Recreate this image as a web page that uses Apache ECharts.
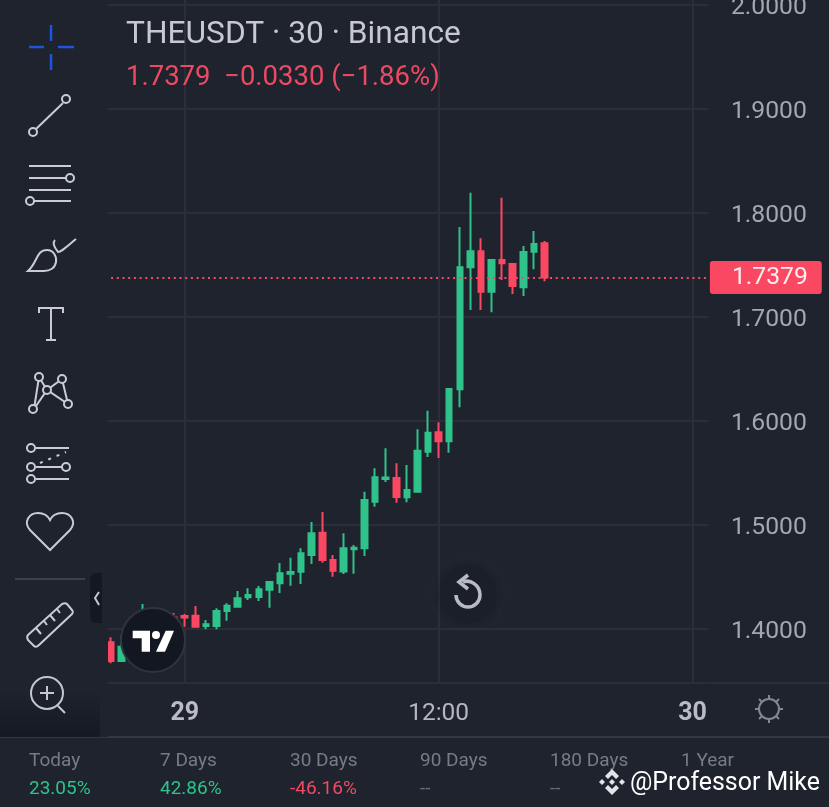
<!DOCTYPE html>
<html>
<head>
	<title>THEUSDT</title>
	<script src="https://cdn.jsdelivr.net/npm/echarts@6/dist/echarts.min.js"></script>
	<style type="text/css">
		html,body{
			margin:0;
			padding:0;
			background:#1e232d;
		}
		#chartContainer{
			width:829px;
			height:807px;
		}
	</style>
</head>
<body>
	<div id="chartContainer"></div>
	<script type="text/javascript">
		// 30 minute bars, one slot each
		var times=['20:30','21:00','21:30','22:00','22:30','23:00','23:30','29','00:30','01:00','01:30','02:00','02:30','03:00','03:30','04:00','04:30','05:00','05:30','06:00','06:30','07:00','07:30','08:00','08:30','09:00','09:30','10:00','10:30','11:00','11:30','12:00','12:30','13:00','13:30','14:00','14:30','15:00','15:30','16:00','16:30','17:00','17:30','18:00','18:30','19:00','19:30','20:00','20:30','21:00','21:30','22:00','22:30','23:00','23:30','30','00:30'];
		var opens =[1.3872,1.3692,1.3830,1.3950,1.4060,1.3980,1.4110,1.4125,1.4128,1.4029,1.4029,1.4173,1.4214,1.4305,1.4308,1.4378,1.4439,1.4532,1.4551,1.4712,1.4926,1.4663,1.4553,1.4766,1.4776,1.5224,1.5442,1.5452,1.5266,1.5320,1.5705,1.5891,1.5805,1.6305,1.7478,1.7632,1.7243,1.7548,1.7510,1.7286,1.7628,1.7709];
		var closes=[1.3692,1.3830,1.3950,1.4060,1.3980,1.4080,1.4020,1.4110,1.4022,1.4045,1.4173,1.4224,1.4295,1.4327,1.4382,1.4452,1.4536,1.4548,1.4728,1.4920,1.4663,1.4561,1.4776,1.4782,1.5240,1.5459,1.5457,1.5269,1.5337,1.5714,1.5888,1.5805,1.6308,1.7478,1.7632,1.7243,1.7548,1.7516,1.7298,1.7625,1.7702,1.7379];
		var lows  =[1.3670,1.3692,1.3810,1.3910,1.3940,1.3960,1.3990,1.4022,1.4022,1.3997,1.3997,1.4080,1.4209,1.4279,1.4269,1.4205,1.4346,1.4416,1.4433,1.4625,1.4638,1.4503,1.4529,1.4531,1.4702,1.5176,1.5413,1.5214,1.5218,1.5320,1.5654,1.5644,1.5695,1.6132,1.7067,1.7067,1.7045,1.7356,1.7221,1.7202,1.7459,1.7343];
		var highs =[1.3920,1.3936,1.4118,1.4240,1.4205,1.4192,1.4154,1.4144,1.4221,1.4087,1.4199,1.4247,1.4365,1.4391,1.4413,1.4462,1.4635,1.4686,1.4776,1.5029,1.5125,1.4712,1.4920,1.4808,1.5320,1.5545,1.5738,1.5593,1.5577,1.5920,1.6099,1.5988,1.6308,1.7865,1.8195,1.7757,1.7558,1.8147,1.7516,1.7683,1.7827,1.7731];
		var priceTicks=[1.4,1.5,1.6,1.7,1.8,1.9,2.0];
		var lastPrice=1.7379;
		var timeLabels=['29','12:00','30'];
		var statNames=['Today','7 Days','30 Days','90 Days','180 Days','1 Year'];
		var statValues=['23.05%','42.86%','-46.16%','--','--','--'];

		var green='#2fc28a',red='#fb4862',gridColor='#292e38',bg='#1e232d';
		var iconColor='#c9ccd3';

		var candleData=[];
		for(var i=0;i<opens.length;i++){
			candleData.push([opens[i],closes[i],lows[i],highs[i]]);
		}

		// graphic has no plain path type, so each icon gets its own registered shape
		var iconCount=0;
		function icon(d,color,width,dash){
			var name='toolIcon'+(iconCount++);
			echarts.graphic.registerShape(name,echarts.graphic.extendPath(d,{}));
			return {type:name,z:20,style:{fill:'none',stroke:color||iconColor,lineWidth:width||2,lineDash:dash||null}};
		}
		function ring(x,y,r,color,width){
			return {type:'circle',z:20,shape:{cx:x,cy:y,r:r},style:{fill:bg,stroke:color||iconColor,lineWidth:width||2}};
		}
		function label(x,y,text,size,color,weight,align){
			return {type:'text',z:20,x:x,y:y,style:{text:text,fill:color,align:align||'left',verticalAlign:'middle',
				font:(weight||'normal')+' '+size+'px Roboto, "Noto Sans", sans-serif'}};
		}

		var graphics=[
			// mask so the grid starts right of the toolbar
			{type:'rect',z:8,shape:{x:0,y:0,width:108,height:737},style:{fill:bg}},
			{type:'rect',z:9,shape:{x:0,y:690,width:100,height:47},style:{fill:{type:'linear',x:0,y:0,x2:0,y2:1,
				colorStops:[{offset:0,color:bg},{offset:1,color:'#151923'}]}}},
			// axis rule carried on under the price scale, and the panel rule
			{type:'rect',z:6,shape:{x:710,y:682,width:119,height:2},style:{fill:gridColor}},
			{type:'rect',z:6,shape:{x:0,y:736,width:829,height:2},style:{fill:'#323742'}},

			// header
			label(126,35,'THEUSDT · 30 · Binance',31.7,'#c6c9d0'),
			label(126,78,'1.7379  −0.0330 (−1.86%)',27.5,'#ec4a62'),

			// cross
			icon('M51 25V41M51 54V70M29 47H44M58 47H74','#1f55de',2.5),
			// trend line
			icon('M36 129L63 103'),ring(33,132,4),ring(66,99,4),
			// parallel lines
			icon('M29 166H71M29 178H67M29 190H71M34 201H71'),ring(70,178,4),ring(30,201,4),
			// brush
			icon('M28 271C38 262 36 250 47 250C53 250 57 256 56 262C55 268 50 271 44 271ZM55 240C52 243 54 247 58 252C61 252 64 249 76 239'),
			// T
			icon('M39 313V308H63V313M51 308V340M46 340H56'),
			// pattern
			icon('M34 409L39 377L47 390L62 379L68 404L47 390L34 409'),ring(39,377,4),ring(62,379,4),ring(47,390,4),ring(33,409,4),ring(68,404,4),
			// fib
			icon('M36 448H69M36 467H62M36 479H69'),icon('M40 463L66 452',iconColor,2,[3,6]),ring(31,448,4),ring(31,467,4),ring(66,467,4),ring(31,479,4),
			// heart
			icon('M50 550L30 530C23 522 29 513 38 513C44 513 48 516 50 520C52 516 56 513 62 513C71 513 77 522 70 530Z'),
			{type:'rect',z:20,shape:{x:15,y:578,width:70,height:2},style:{fill:'#3b404b'}},
			// ruler
			icon('M28 635L62 604C64 603 66 603 67 604L72 610C73 611 73 613 72 614L39 645C37 647 35 647 34 646L28 640C27 638 27 636 28 635ZM36 628L41 634M44 621L47 625M50 615L55 621M57 609L60 613'),
			// zoom
			icon('M47 677A16 16 0 1 0 47 709A16 16 0 1 0 47 677ZM40 693H54M47 686V700M58 706L65 713','#c4c7ce',2),
			// collapse tab
			{type:'rect',z:20,shape:{x:90,y:573,width:12,height:50,r:[6,0,0,6]},style:{fill:'#141820'}},
			icon('M99 592L95 598L99 605','#c4c7ce',2),

			// tradingview badge
			{type:'circle',z:20,shape:{cx:153,cy:640,r:32},style:{fill:'#131722',stroke:'#30343f',lineWidth:2}},
			{type:'polygon',z:21,shape:{points:[[132.7,630.7],[150,630.7],[150,651.7],[141.7,651.7],[141.7,638.3],[132.7,638.3]]},style:{fill:'#fff'}},
			{type:'circle',z:21,shape:{cx:156,cy:635,r:4},style:{fill:'#fff'}},
			{type:'polygon',z:21,shape:{points:[[165.7,630.7],[174,630.7],[165,651.7],[156,651.7]]},style:{fill:'#fff'}},

			// reset button
			{type:'circle',z:20,shape:{cx:468,cy:594,r:28},style:{fill:'#1b1f29',shadowBlur:8,shadowColor:'rgba(15,18,25,0.5)'}},
			icon('M463 582C470 579 480 585 480 595A12 12 0 1 1 456 595','#b9bcc4',3.5),
			icon('M468 575L459 582L468 589','#b9bcc4',3.5),

			// settings sun
			{type:'circle',z:20,shape:{cx:769,cy:709,r:10},style:{fill:'none',stroke:'#83878f',lineWidth:2}},
			icon('M769 695V699M769 719V723M755 709H759M779 709H783M759 699L762 702M779 699L776 702M759 719L762 716M779 719L776 716','#83878f',2),

			// watermark
			{type:'polygon',z:21,shape:{points:[[612,769],[619,776],[616,779],[612,775],[608,779],[605,776]]},style:{fill:'#e3e4e7'}},
			{type:'polygon',z:21,shape:{points:[[612,795],[619,788],[616,785],[612,789],[608,785],[605,788]]},style:{fill:'#e3e4e7'}},
			{type:'polygon',z:21,shape:{points:[[612,779],[615,782],[612,785],[609,782]]},style:{fill:'#e3e4e7'}},
			{type:'polygon',z:21,shape:{points:[[602,779],[605,782],[602,785],[599,782]]},style:{fill:'#e3e4e7'}},
			{type:'polygon',z:21,shape:{points:[[622,779],[625,782],[622,785],[619,782]]},style:{fill:'#e3e4e7'}},
			label(630,784,'@Professor Mike',24.9,'#ffffff')
		];

		var statX=[29,160,290,420,550,681];
		for(var s=0;s<statNames.length;s++){
			graphics.push(label(statX[s],761,statNames[s],19,'#777b84'));
			var c=statValues[s]=='--'?'#6a6e78':(statValues[s].charAt(0)=='-'?'#ef4a63':green);
			if(s<5){
				graphics.push(label(statX[s],789,statValues[s],19,c));
			}
		}

		var myChart=echarts.init(document.getElementById('chartContainer'));
		var option={
			backgroundColor:bg,
			animation:false,
			graphic:graphics,
			grid:{left:105.4,top:0,width:603,height:683,outerBoundsMode:'none'},
			xAxis:{
				type:'category',
				data:times,
				axisLine:{show:true,lineStyle:{color:gridColor,width:2}},
				axisTick:{show:false,alignWithLabel:true},
				splitLine:{
					show:true,
					alignWithLabel:true,
					lineStyle:{color:gridColor,width:2},
					interval:function(idx,name){ return timeLabels.indexOf(name)!=-1 && (idx==7||idx==31||idx==55); }
				},
				axisLabel:{
					margin:18,
					interval:function(idx,name){ return idx==7||idx==31||idx==55; },
					formatter:function(v){
						return v=='12:00'?'{n|'+v+'}':'{b|'+v+'}';
					},
					rich:{
						b:{fontFamily:'Roboto',fontSize:25,fontWeight:'bold',color:'#b9bcc4'},
						n:{fontFamily:'Roboto',fontSize:24.5,color:'#b4b7bf'}
					}
				}
			},
			yAxis:{
				type:'value',
				position:'right',
				min:1.34808,
				max:2.00481,
				axisLine:{show:false},
				axisTick:{show:false,customValues:priceTicks},
				splitLine:{show:true,customValues:priceTicks,lineStyle:{color:gridColor,width:2}},
				axisLabel:{
					customValues:priceTicks,
					margin:22.5,
					formatter:function(v){ return '{p|'+v.toFixed(4)+'}'; },
					rich:{
						p:{fontFamily:'Roboto',fontSize:24.7,color:'#a3a7af',padding:[5,0,0,0]}
					}
				}
			},
			series:[{
				type:'candlestick',
				data:candleData,
				barWidth:6,
				itemStyle:{color:green,color0:red,borderColor:green,borderColor0:red,borderWidth:2},
				markLine:{
					silent:true,
					symbol:'none',
					precision:4,
					data:[{yAxis:lastPrice}],
					lineStyle:{color:red,type:[2,3.7],width:2},
					label:{
						position:'end',
						distance:1.5,
						formatter:function(){ return lastPrice.toFixed(4); },
						backgroundColor:red,
						color:'#f7eef0',
						fontFamily:'Roboto',
						fontSize:24.7,
						padding:[6,14,2,22],
						borderRadius:3
					}
				}
			}]
		};
		myChart.setOption(option);
	</script>
</body>
</html>
